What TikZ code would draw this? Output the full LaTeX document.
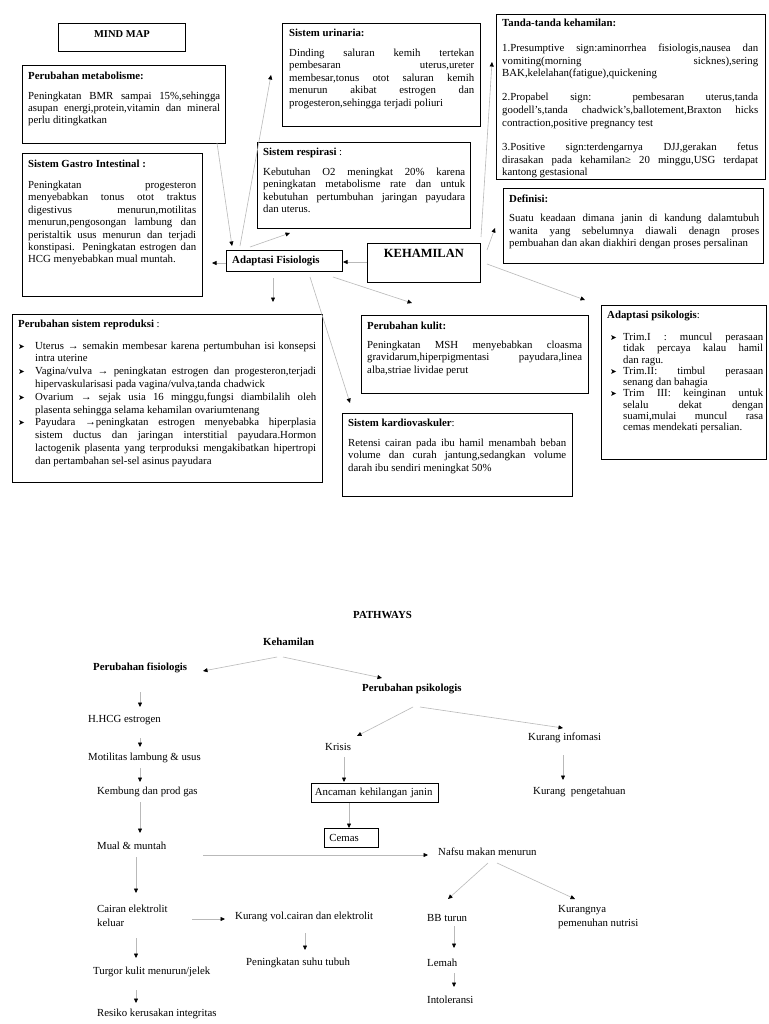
\documentclass[tikz,border=0pt]{standalone}
\usepackage{fontspec}
\setmainfont{Liberation Serif}
\newfontfamily\dejavu{DejaVu Sans}
\usetikzlibrary{arrows.meta}
\newcommand\bodyfont{\fontsize{10.8}{12.4}\selectfont\hyphenpenalty=10000\exhyphenpenalty=10000\tolerance=10000\hbadness=10000}
\newcommand\bul{{\dejavu\fontsize{8}{8}\selectfont ➤}}
\newcommand\gapT[1]{\par\vspace{#1}}
\newcommand\itm[2]{\noindent\hangindent=#1\hangafter=1\makebox[#1][l]{#2}}
\begin{document}
\begin{tikzpicture}[x=1pt,y=-1pt,
  box/.style={draw=black, line width=0.8pt, anchor=north west, inner sep=0pt},
  txt/.style={anchor=north west, inner sep=0pt, align=justify, font=\bodyfont},
  plain/.style={anchor=west, inner sep=0pt, font=\bodyfont},
  bplain/.style={anchor=west, inner sep=0pt, font=\bodyfont\bfseries},
  arr/.style={draw=gray!55, line width=0.6pt, -{Triangle[length=4.5pt,width=4pt,color=black]}}]
\useasboundingbox[fill=white] (0,0) rectangle (768,1024);

% ---------------- MIND MAP boxes ----------------
\node[box, minimum width=127pt, minimum height=28pt] (mm) at (58,23) {};
\node[anchor=center, inner sep=0pt, font=\fontsize{10.5}{12}\selectfont\bfseries] (mmt) at ([yshift=-11pt]mm.north) {MIND MAP};

\node[box, minimum width=203pt, minimum height=78pt] (meta) at (22,65) {};
\node[txt, text width=192pt] (metat) at ([xshift=6pt,yshift=-6.5pt]meta.north west)
 {\textbf{Perubahan metabolisme:}\gapT{7.5pt}Peningkatan BMR sampai 15\%,sehingga\linebreak asupan energi,protein,vitamin dan mineral\linebreak perlu ditingkatkan\par};

\node[box, minimum width=180pt, minimum height=143pt] (gastro) at (22,153) {};
\node[txt, text width=168pt] (gastrot) at ([xshift=6pt,yshift=-6.5pt]gastro.north west)
 {\textbf{Sistem Gastro Intestinal :}\gapT{9pt}Peningkatan progesteron\linebreak menyebabkan tonus otot traktus\linebreak digestivus menurun,motilitas\linebreak menurun,pengosongan lambung dan\linebreak peristaltik usus menurun dan terjadi\linebreak konstipasi. Peningkatan estrogen dan\linebreak HCG menyebabkan mual muntah.\par};

\node[box, minimum width=198pt, minimum height=103pt] (uri) at (282,23) {};
\node[txt, text width=185pt] (urit) at ([xshift=7pt,yshift=-6pt]uri.north west)
 {\textbf{Sistem urinaria:}\gapT{7.5pt}Dinding saluran kemih tertekan\linebreak pembesaran uterus,ureter\linebreak membesar,tonus otot saluran kemih\linebreak menurun akibat estrogen dan\linebreak progesteron,sehingga terjadi poliuri\par};

\node[box, minimum width=213pt, minimum height=86pt] (resp) at (257,142) {};
\node[txt, text width=202pt] (respt) at ([xshift=6pt,yshift=-6pt]resp.north west)
 {\textbf{Sistem respirasi} :\gapT{7.5pt}Kebutuhan O2 meningkat 20\% karena\linebreak peningkatan metabolisme rate dan untuk\linebreak kebutuhan pertumbuhan jaringan payudara\linebreak dan uterus.\par};

\node[box, minimum width=269pt, minimum height=165pt] (tanda) at (496,14) {};
\node[txt, text width=256pt] (tandat) at ([xshift=6pt,yshift=-5pt]tanda.north west)
 {\fontsize{10.8}{12.7}\selectfont\textbf{Tanda-tanda kehamilan:}\gapT{12pt}1.Presumptive sign:aminorrhea fisiologis,nausea dan\linebreak vomiting(morning sicknes),sering\linebreak BAK,kelelahan(fatigue),quickening\gapT{11.5pt}2.Propabel sign: pembesaran uterus,tanda\linebreak goodell's,tanda chadwick's,ballotement,Braxton hicks\linebreak contraction,positive pregnancy test\gapT{11.5pt}3.Positive sign:terdengarnya DJJ,gerakan fetus\linebreak dirasakan pada kehamilan≥ 20 minggu,USG terdapat\linebreak kantong gestasional\par};

\node[box, minimum width=260pt, minimum height=75pt] (def) at (503,188) {};
\node[txt, text width=250pt] (deft) at ([xshift=6pt,yshift=-6.5pt]def.north west)
 {\textbf{Definisi:}\gapT{7pt}Suatu keadaan dimana janin di kandung dalamtubuh\linebreak wanita yang sebelumnya diawali denagn proses\linebreak pembuahan dan akan diakhiri dengan proses persalinan\par};

\node[box, minimum width=116pt, minimum height=21pt] (adap) at (226,250) {};
\node[bplain] (adapt) at ([xshift=6pt,yshift=-10.5pt]adap.north west) {Adaptasi Fisiologis};

\node[box, minimum width=113pt, minimum height=39pt] (keh) at (367,243) {};
\node[anchor=center, inner sep=0pt, font=\fontsize{12.5}{14}\selectfont\bfseries] (keht) at ([yshift=-10.5pt]keh.north) {KEHAMILAN};

\node[box, minimum width=310pt, minimum height=168pt] (repro) at (12,314) {};
\node[txt, text width=298pt] (reprot) at ([xshift=6pt,yshift=-5.5pt]repro.north west)
 {\fontsize{10.8}{12.8}\selectfont\textbf{Perubahan sistem reproduksi} :\gapT{9.2pt}%
 \itm{17pt}{\bul}Uterus → semakin membesar karena pertumbuhan isi konsepsi\linebreak intra uterine\par
 \itm{17pt}{\bul}Vagina/vulva → peningkatan estrogen dan progesteron,terjadi\linebreak hipervaskularisasi pada vagina/vulva,tanda chadwick\par
 \itm{17pt}{\bul}Ovarium → sejak usia 16 minggu,fungsi diambilalih oleh\linebreak plasenta sehingga selama kehamilan ovariumtenang\par
 \itm{17pt}{\bul}Payudara →peningkatan estrogen menyebabka hiperplasia\linebreak sistem ductus dan jaringan interstitial payudara.Hormon\linebreak lactogenik plasenta yang terproduksi mengakibatkan hipertropi\linebreak dan pertambahan sel-sel asinus payudara\par};

\node[box, minimum width=227pt, minimum height=78pt] (kulit) at (361,315) {};
\node[txt, text width=215pt] (kulitt) at ([xshift=6pt,yshift=-7pt]kulit.north west)
 {\textbf{Perubahan kulit:}\gapT{6.5pt}Peningkatan MSH menyebabkan cloasma\linebreak gravidarum,hiperpigmentasi payudara,linea\linebreak alba,striae lividae perut\par};

\node[box, minimum width=230pt, minimum height=83pt] (kardio) at (342,413) {};
\node[txt, text width=218pt] (kardiot) at ([xshift=6pt,yshift=-6pt]kardio.north west)
 {\textbf{Sistem kardiovaskuler}:\gapT{7.5pt}Retensi cairan pada ibu hamil menambah beban\linebreak volume dan curah jantung,sedangkan volume\linebreak darah ibu sendiri meningkat 50\%\par};

\node[box, minimum width=165pt, minimum height=154pt] (psi) at (601,305) {};
\node[txt, text width=156pt] (psit) at ([xshift=6pt,yshift=-6pt]psi.north west)
 {\fontsize{10.8}{11.3}\selectfont\textbf{Adaptasi psikologis}:\gapT{10.5pt}%
 \itm{16pt}{\hspace{3pt}\bul}Trim.I : muncul perasaan\linebreak tidak percaya kalau hamil\linebreak dan ragu.\par
 \itm{16pt}{\hspace{3pt}\bul}Trim.II: timbul perasaan\linebreak senang dan bahagia\par
 \itm{16pt}{\hspace{3pt}\bul}Trim III: keinginan untuk\linebreak selalu dekat dengan\linebreak suami,mulai muncul rasa\linebreak cemas mendekati persalian.\par};

% ---------------- MIND MAP connectors ----------------
\draw[arr] ([xshift=195pt,yshift=-78pt]meta.north west) -- ([xshift=6pt,yshift=4pt]adap.north west);
\draw[arr] ([xshift=14pt,yshift=4pt]adap.north west) -- ([xshift=-11pt,yshift=-52pt]uri.north west);
\draw[arr] ([xshift=24pt,yshift=3pt]adap.north west) -- ([xshift=33pt,yshift=-91pt]resp.north west);
\draw[arr] ([yshift=-13pt]adap.north west) -- ([xshift=190pt,yshift=-110pt]gastro.north west);
\draw[arr] ([yshift=-19pt]keh.north west) -- ([xshift=117pt,yshift=-12pt]adap.north west);
\draw[arr] ([xshift=47pt,yshift=-28pt]adap.north west) -- ([xshift=261pt,yshift=12pt]repro.north west);
\draw[arr] ([xshift=84pt,yshift=-27pt]adap.north west) -- ([xshift=8pt,yshift=10pt]kardio.north west);
\draw[arr] ([xshift=107pt,yshift=-27pt]adap.north west) -- ([xshift=51pt,yshift=12pt]kulit.north west);
\draw[arr] ([xshift=120pt,yshift=-21pt]keh.north west) -- ([xshift=-16pt,yshift=5pt]psi.north west);
\draw[arr] ([xshift=120pt,yshift=-7pt]keh.north west) -- ([xshift=-8pt,yshift=-40pt]def.north west);
\draw[arr] ([xshift=114pt,yshift=6pt]keh.north west) -- ([xshift=-4pt,yshift=-48pt]tanda.north west);

% ---------------- PATHWAYS ----------------
\node[bplain] (pw) at (353,615) {PATHWAYS};
\node[bplain] (pk) at (263,642) {Kehamilan};
\node[bplain] (pf) at (93,668) {Perubahan fisiologis};
\node[bplain] (pp) at (362,689) {Perubahan psikologis};
\node[plain] (kr) at (325,747) {Krisis};
\node[plain] (ki) at (528,738) {Kurang infomasi};
\node[plain] (kp) at (533,792) {Kurang~ pengetahuan};
\node[draw, line width=0.8pt, anchor=north west, text width=120pt, inner xsep=3.5pt, inner ysep=0pt, minimum height=19pt, align=left, font=\bodyfont] (an) at (311,783) {Ancaman kehilangan janin};
\node[draw, line width=0.8pt, anchor=north west, text width=44pt, inner xsep=5pt, inner ysep=0pt, minimum height=19pt, align=left, font=\bodyfont] (ce) at (324,828) {Cemas};
\node[plain] (hc) at (88,720) {H.HCG estrogen};
\node[plain] (mo) at (88,758) {Motilitas lambung \& usus};
\node[plain] (ke) at (97,792) {Kembung dan prod gas};
\node[plain] (mu) at (97,846) {Mual \& muntah};
\node[plain, align=left, font=\fontsize{10.8}{14}\selectfont] (ca) at (97,916) {Cairan elektrolit\\keluar};
\node[plain] (kv) at (235,917) {Kurang vol.cairan dan elektrolit};
\node[plain] (ps) at (246,963) {Peningkatan suhu tubuh};
\node[plain] (tu) at (93,972) {Turgor kulit menurun/jelek};
\node[plain] (re) at (97,1014) {Resiko kerusakan integritas};
\node[plain] (na) at (438,852) {Nafsu makan menurun};
\node[plain] (bb) at (427,918) {BB turun};
\node[plain, align=left, font=\fontsize{10.8}{14}\selectfont] (kn) at (558,917) {Kurangnya\\pemenuhan nutrisi};
\node[plain] (le) at (427,963) {Lemah};
\node[plain] (intol) at (427,1000) {Intoleransi};

% ---------------- PATHWAYS connectors ----------------
\draw[arr] ([xshift=14pt,yshift=-15pt]pk.west) -- ([xshift=110pt,yshift=-3pt]pf.west);
\draw[arr] ([xshift=20pt,yshift=-15pt]pk.west) -- ([xshift=20pt,yshift=11pt]pp.west);
\draw[arr] ([xshift=51pt,yshift=-18pt]pp.west) -- ([xshift=32pt,yshift=11pt]kr.west);
\draw[arr] ([xshift=58pt,yshift=-18pt]pp.west) -- ([xshift=35pt,yshift=10pt]ki.west);
\draw[arr] ([xshift=35pt,yshift=-17pt]ki.west) -- ([xshift=30pt,yshift=12pt]kp.west);
\draw[arr] ([xshift=19pt,yshift=-10pt]kr.west) -- ([xshift=33pt,yshift=1pt]an.north west);
\draw[arr] ([xshift=38pt]an.south west) -- ([xshift=25pt]ce.north west);
\draw[arr] ([xshift=47pt,yshift=-24pt]pf.west) -- ([xshift=52pt,yshift=13pt]hc.west);
\draw[arr] ([xshift=52pt,yshift=-18pt]hc.west) -- ([xshift=52pt,yshift=11pt]mo.west);
\draw[arr] ([xshift=52pt,yshift=-10pt]mo.west) -- ([xshift=43pt,yshift=10pt]ke.west);
\draw[arr] ([xshift=43pt,yshift=-10pt]ke.west) -- ([xshift=43pt,yshift=13pt]mu.west);
\draw[arr] ([xshift=39pt,yshift=-11pt]mu.west) -- ([xshift=39pt,yshift=23pt]ca.west);
\draw[arr] ([xshift=106pt,yshift=-9pt]mu.west) -- ([xshift=-10pt,yshift=-3pt]na.west);
\draw[arr] ([xshift=50pt,yshift=-11pt]na.west) -- ([xshift=21pt,yshift=19pt]bb.west);
\draw[arr] ([xshift=59pt,yshift=-11pt]na.west) -- ([xshift=17pt,yshift=18pt]kn.west);
\draw[arr] ([xshift=27pt,yshift=-8pt]bb.west) -- ([xshift=27pt,yshift=15pt]le.west);
\draw[arr] ([xshift=27pt,yshift=-10pt]le.west) -- ([xshift=27pt,yshift=13pt]intol.west);
\draw[arr] ([xshift=95pt,yshift=-3pt]ca.west) -- ([xshift=-10pt,yshift=-2pt]kv.west);
\draw[arr] ([xshift=70pt,yshift=-16pt]kv.west) -- ([xshift=59pt,yshift=13pt]ps.west);
\draw[arr] ([xshift=39pt,yshift=-22pt]ca.west) -- ([xshift=43pt,yshift=14pt]tu.west);
\draw[arr] ([xshift=43pt,yshift=-18pt]tu.west) -- ([xshift=39pt,yshift=11pt]re.west);
\end{tikzpicture}
\end{document}
